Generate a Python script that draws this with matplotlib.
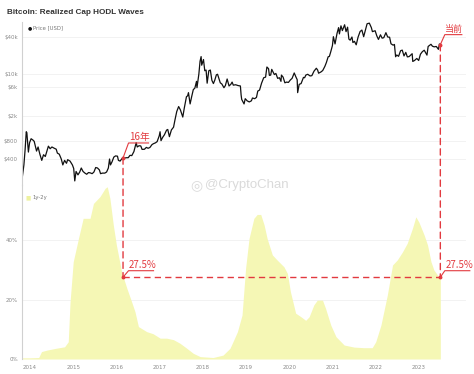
import matplotlib
matplotlib.use("Agg")
import matplotlib.pyplot as plt
import matplotlib.dates as mdates
from matplotlib.patches import ConnectionPatch
from matplotlib.lines import Line2D
import pandas as pd

# ---------------- data ----------------
price_dates = [
    "2013-10-25", "2013-11-10", "2013-11-20", "2013-11-30", "2013-12-05", "2013-12-18", "2013-12-28",
    "2014-01-10", "2014-01-25", "2014-02-05", "2014-02-25", "2014-03-10", "2014-03-25", "2014-04-10",
    "2014-04-25", "2014-05-10", "2014-05-28", "2014-06-05", "2014-06-20", "2014-07-05", "2014-07-25",
    "2014-08-10", "2014-08-20", "2014-09-05", "2014-09-22", "2014-10-05", "2014-10-20", "2014-11-05",
    "2014-11-15", "2014-12-05", "2014-12-25", "2015-01-05", "2015-01-14", "2015-01-25", "2015-02-10",
    "2015-02-25", "2015-03-10", "2015-03-25", "2015-04-10", "2015-04-25", "2015-05-10", "2015-05-25",
    "2015-06-10", "2015-06-25", "2015-07-10", "2015-07-25", "2015-08-10", "2015-08-20", "2015-09-05",
    "2015-09-25", "2015-10-10", "2015-10-25", "2015-11-04", "2015-11-12", "2015-11-25", "2015-12-10",
    "2015-12-25", "2016-01-10", "2016-01-18", "2016-02-01", "2016-02-25", "2016-03-10", "2016-03-25",
    "2016-04-10", "2016-04-25", "2016-05-10", "2016-05-28", "2016-06-16", "2016-06-25", "2016-07-10",
    "2016-07-25", "2016-08-05", "2016-08-25", "2016-09-10", "2016-09-25", "2016-10-10", "2016-10-28",
    "2016-11-10", "2016-11-25", "2016-12-10", "2016-12-28", "2017-01-04", "2017-01-12", "2017-01-25",
    "2017-02-10", "2017-02-28", "2017-03-10", "2017-03-24", "2017-04-10", "2017-04-28", "2017-05-10",
    "2017-05-25", "2017-06-10", "2017-06-25", "2017-07-15", "2017-07-28", "2017-08-15", "2017-08-25",
    "2017-09-01", "2017-09-15", "2017-09-28", "2017-10-12", "2017-10-25", "2017-11-08", "2017-11-12",
    "2017-11-28", "2017-12-08", "2017-12-17", "2017-12-22", "2018-01-06", "2018-01-17", "2018-01-28",
    "2018-02-06", "2018-02-20", "2018-03-05", "2018-03-18", "2018-03-31", "2018-04-12", "2018-04-25",
    "2018-05-05", "2018-05-28", "2018-06-10", "2018-06-28", "2018-07-10", "2018-07-25", "2018-08-10",
    "2018-08-25", "2018-09-05", "2018-09-15", "2018-10-05", "2018-10-25", "2018-11-14", "2018-11-20",
    "2018-11-25", "2018-12-15", "2018-12-25", "2019-01-10", "2019-01-28", "2019-02-15", "2019-02-24",
    "2019-03-15", "2019-03-30", "2019-04-10", "2019-04-25", "2019-05-12", "2019-05-30", "2019-06-15",
    "2019-06-26", "2019-07-10", "2019-07-17", "2019-07-28", "2019-08-06", "2019-08-28", "2019-09-10",
    "2019-09-25", "2019-10-10", "2019-10-23", "2019-10-27", "2019-11-10", "2019-11-25", "2019-12-10",
    "2019-12-25", "2020-01-10", "2020-01-25", "2020-02-12", "2020-02-28", "2020-03-08", "2020-03-12",
    "2020-03-25", "2020-04-10", "2020-04-30", "2020-05-10", "2020-05-20", "2020-06-05", "2020-06-25",
    "2020-07-10", "2020-07-28", "2020-08-17", "2020-08-28", "2020-09-05", "2020-09-25", "2020-10-10",
    "2020-10-28", "2020-11-10", "2020-11-25", "2020-12-05", "2020-12-17", "2020-12-31", "2021-01-08",
    "2021-01-22", "2021-02-08", "2021-02-21", "2021-02-28", "2021-03-13", "2021-03-25", "2021-04-13",
    "2021-04-25", "2021-05-08", "2021-05-19", "2021-05-30", "2021-06-14", "2021-06-22", "2021-07-05",
    "2021-07-20", "2021-08-05", "2021-08-22", "2021-09-06", "2021-09-21", "2021-10-05", "2021-10-20",
    "2021-11-08", "2021-11-25", "2021-12-04", "2021-12-27", "2022-01-10", "2022-01-24", "2022-02-10",
    "2022-02-24", "2022-03-10", "2022-03-28", "2022-04-12", "2022-04-28", "2022-05-10", "2022-05-28",
    "2022-06-08", "2022-06-18", "2022-06-28", "2022-07-13", "2022-07-30", "2022-08-13", "2022-08-28",
    "2022-09-12", "2022-09-25", "2022-10-10", "2022-10-28", "2022-11-05", "2022-11-10", "2022-11-25",
    "2022-12-14", "2022-12-30", "2023-01-14", "2023-01-30", "2023-02-15", "2023-03-10", "2023-03-20",
    "2023-04-13", "2023-04-25", "2023-05-10", "2023-05-28", "2023-06-15", "2023-06-23", "2023-07-01",
]
price_usd = [
    185, 320, 560, 1120, 1080, 520, 740,
    860, 820, 780, 540, 630, 480, 380,
    470, 440, 580, 650, 590, 630, 600,
    580, 500, 480, 400, 320, 380, 340,
    390, 370, 320, 280, 175, 250, 220,
    245, 285, 250, 235, 225, 240, 237,
    230, 245, 290, 285, 265, 230, 235,
    235, 245, 285, 400, 320, 360, 430,
    450, 445, 380, 370, 425, 415, 420,
    420, 460, 455, 530, 740, 630, 660,
    655, 575, 578, 620, 600, 618, 690,
    715, 735, 770, 960, 1120, 800, 900,
    1000, 1190, 1220, 930, 1200, 1330, 1750,
    2400, 2900, 2550, 1950, 2750, 4200, 4350,
    4900, 3200, 4200, 5500, 5800, 7500, 5900,
    9900, 16000, 19100, 13800, 17100, 11200, 11500,
    7000, 11200, 11500, 7800, 6900, 7900, 9600,
    9800, 7100, 6800, 5900, 6400, 8200, 6300,
    6700, 7300, 6500, 6600, 6400, 6300, 4500,
    3800, 3200, 3900, 3600, 3450, 3600, 4000,
    3900, 4100, 5200, 5400, 7000, 8600, 8800,
    12900, 12100, 9400, 9500, 11800, 9700, 10100,
    8400, 8600, 7500, 9500, 8800, 7100, 7300,
    7200, 7900, 8400, 10300, 8700, 8000, 4900,
    6700, 6900, 8700, 8600, 9500, 9800, 9200,
    9300, 11000, 12300, 11500, 10200, 10700, 11300,
    13200, 15300, 19000, 19200, 23000, 29000, 40500,
    30800, 46000, 57000, 45000, 61000, 51000, 63500,
    49000, 58000, 37000, 35500, 40000, 32500, 34000,
    29800, 40000, 49300, 52000, 40500, 51500, 66000,
    67500, 57000, 49000, 50700, 41800, 36500, 43500,
    38300, 39000, 47100, 40000, 39700, 31000, 29400,
    30200, 19000, 20300, 19300, 23800, 24400, 19600,
    22400, 18900, 19100, 20600, 21300, 15900, 16500,
    17800, 16500, 20900, 23000, 24300, 20200, 28000,
    30400, 28300, 27600, 28000, 25100, 30700, 30500,
]

hodl_dates = [
    "2013-10-25", "2014-01-01", "2014-03-15", "2014-04-08", "2014-05-25", "2014-08-08", "2014-10-20",
    "2014-11-20", "2014-12-05", "2015-01-01", "2015-02-14", "2015-03-26", "2015-05-23", "2015-06-21",
    "2015-08-15", "2015-09-28", "2015-10-16", "2015-11-07", "2015-12-06", "2016-01-01", "2016-02-14",
    "2016-03-29", "2016-05-08", "2016-06-06", "2016-07-05", "2016-09-13", "2016-11-06", "2017-01-05",
    "2017-03-01", "2017-04-27", "2017-06-21", "2017-08-18", "2017-10-12", "2017-12-09", "2018-03-28",
    "2018-06-20", "2018-08-18", "2018-09-20", "2018-10-20", "2018-11-28", "2018-12-28", "2019-01-26",
    "2019-03-08", "2019-04-05", "2019-05-05", "2019-06-03", "2019-06-28", "2019-08-11", "2019-09-20",
    "2019-11-17", "2019-12-16", "2020-01-11", "2020-02-24", "2020-04-09", "2020-05-19", "2020-06-17",
    "2020-07-27", "2020-08-25", "2020-10-08", "2020-11-03", "2020-12-17", "2021-01-30", "2021-04-09",
    "2021-07-02", "2021-09-24", "2021-12-02", "2022-01-01", "2022-02-14", "2022-04-09", "2022-05-23",
    "2022-07-02", "2022-08-15", "2022-09-24", "2022-11-07", "2022-12-06", "2023-01-01", "2023-02-14",
    "2023-03-15", "2023-04-13", "2023-05-08", "2023-06-17", "2023-07-01",
]
hodl_1y_2y = [
    0.4, 0.4, 0.5, 2.5, 3.0, 3.6, 4.1,
    5.8, 19.0, 32.7, 40.5, 47.3, 47.3, 52.3,
    54.6, 57.4, 57.9, 54.0, 45.0, 38.3, 29.3,
    23.8, 19.3, 15.9, 10.9, 9.2, 8.5, 7.0,
    7.0, 6.5, 5.3, 3.6, 1.9, 0.8, 0.5,
    1.3, 3.6, 6.5, 9.2, 14.8, 30.5, 40.5,
    47.3, 48.6, 48.6, 45.0, 40.5, 35.0, 33.3,
    31.0, 28.8, 22.6, 15.4, 14.2, 13.0, 14.2,
    18.2, 19.8, 19.8, 17.0, 11.4, 7.5, 4.7,
    4.0, 3.8, 3.8, 5.8, 11.4, 21.5, 31.6,
    33.3, 36.0, 38.9, 43.9, 47.8, 46.0, 41.7,
    38.3, 32.7, 29.9, 27.7, 27.5,
]

price_ticks = [400, 800, 2000, 6000, 10000, 40000]
price_tick_labels = ["$400", "$800", "$2k", "$6k", "$10k", "$40k"]
pct_ticks = [0, 20, 40]
pct_tick_labels = ["0%", "20%", "40%"]
year_ticks = [str(y) for y in range(2014, 2024)]

mark_start = "2016-02-26"
mark_start_price = 416.0
mark_end = "2023-07-01"
mark_end_price = 30000.0
mark_level = 27.5
mark_label_start = "16年"
mark_label_end = "当前"
mark_level_label = "27.5%"

# ---------------- figure ----------------
W, H = 474, 374
fig = plt.figure(figsize=(W / 100, H / 100), dpi=100)
fig.patch.set_facecolor("white")

def fx(px):
    return px / W

def fy(py):
    return 1 - py / H

left, right = 22, 466
ax1 = fig.add_axes([fx(left), fy(185), fx(right - left), fy(22) - fy(185)])
ax2 = fig.add_axes([fx(left), fy(359), fx(right - left), fy(185) - fy(359)])

pdates = mdates.date2num(pd.to_datetime(price_dates).to_pydatetime())
hdates = mdates.date2num(pd.to_datetime(hodl_dates).to_pydatetime())
xmin = mdates.date2num(pd.Timestamp("2013-10-25").to_pydatetime())
xmax = mdates.date2num(pd.Timestamp("2024-02-03").to_pydatetime())

red = "#e23a3f"
grid_c = "#f0f0f0"
tick_c = "#8a8a8a"

# price panel
ax1.plot(pdates, price_usd, color="#111111", lw=0.9)
ax1.set_yscale("log")
ax1.set_ylim(150, 70500)
ax1.set_xlim(xmin, xmax)
ax1.set_yticks(price_ticks)
ax1.set_yticklabels(price_tick_labels)
ax1.minorticks_off()
ax1.set_xticks([])
ax1.yaxis.grid(True, color=grid_c, lw=0.6)

# HODL panel
ax2.fill_between(hdates, 0, hodl_1y_2y, color="#f5f7b5", lw=0)
ax2.set_ylim(0, 58.5)
ax2.set_xlim(xmin, xmax)
ax2.set_yticks(pct_ticks)
ax2.set_yticklabels(pct_tick_labels)
ax2.set_xticks(mdates.date2num(pd.to_datetime([y + "-01-01" for y in year_ticks]).to_pydatetime()))
ax2.set_xticklabels(year_ticks)
ax2.yaxis.grid(True, color=grid_c, lw=0.6)
ax2.set_axisbelow(True)

for ax in (ax1, ax2):
    ax.set_facecolor("none")
    for s in ("top", "right", "bottom"):
        ax.spines[s].set_visible(False)
    ax.spines["left"].set_color("#d0d0d0")
    ax.spines["left"].set_linewidth(0.8)
    ax.tick_params(length=0, labelsize=4, colors=tick_c, pad=3)

ax2.tick_params(axis="x", pad=4)

# title
fig.text(fx(7), fy(12), "Bitcoin: Realized Cap HODL Waves", fontsize=5.9,
         fontweight="bold", color="#333333", family="Liberation Sans", va="center", ha="left")

# legends
fig.text(fx(30), fy(28), "\u25CF", fontsize=3.5, color="#111111", va="center", ha="center")
fig.text(fx(33), fy(28), "Price [USD]", fontsize=3.8, color="#777777", va="center", ha="left")
fig.text(fx(28), fy(197.5), "\u25A0", fontsize=4, color="#eef2a0", va="center", ha="center")
fig.text(fx(32), fy(197.5), "1y-2y", fontsize=3.8, color="#777777", va="center", ha="left")

# watermark
fig.text(fx(196), fy(185), "\u25CE", fontsize=10, color="#dadada", va="center", ha="center")
fig.text(fx(205), fy(185), "@CryptoChan", fontsize=9.5, color="#dadada", va="center", ha="left",
         family="Liberation Sans")

# red dashed guide lines
s_x = mdates.date2num(pd.Timestamp(mark_start).to_pydatetime())
e_x = mdates.date2num(pd.Timestamp(mark_end).to_pydatetime())
for xd, pv in ((s_x, mark_start_price), (e_x, mark_end_price)):
    con = ConnectionPatch(xyA=(xd, pv), coordsA=ax1.transData,
                          xyB=(xd, mark_level), coordsB=ax2.transData,
                          color=red, lw=1.0, linestyle=(0, (4.5, 3)))
    fig.add_artist(con)
ax2.plot([s_x, e_x], [mark_level, mark_level], color=red, lw=1.0, linestyle=(0, (4.5, 3)))

# labelled callouts
font_list = ["Noto Sans CJK SC", "DejaVu Sans"]
fig.canvas.draw()

def callout(ax, xd, yv, label, dx, dy, ulen, fs):
    px, py = ax.transData.transform((xd, yv))
    inv = fig.transFigure.inverted()
    p0 = inv.transform((px, py))
    p1 = inv.transform((px + dx, py + dy))
    p2 = inv.transform((px + dx + ulen, py + dy))
    fig.add_artist(Line2D([p0[0], p1[0], p2[0]], [p0[1], p1[1], p2[1]],
                          color=red, lw=0.8, transform=fig.transFigure))
    fig.add_artist(Line2D([p0[0]], [p0[1]], marker="o", ms=1.8, color=red,
                          transform=fig.transFigure))
    pt = inv.transform((px + dx + 0.5, py + dy + 0.8))
    fig.text(pt[0], pt[1], label, fontsize=fs, color=red, family=font_list,
             ha="left", va="bottom")

callout(ax1, s_x, mark_start_price, mark_label_start, 5.5, 15, 20, 7)
callout(ax2, s_x, mark_level, mark_level_label, 5.5, 6.5, 25, 7)
callout(ax1, e_x, mark_end_price, mark_label_end, 4.5, 10, 17, 6.5)
callout(ax2, e_x, mark_level, mark_level_label, 4.5, 6.5, 25, 7)

fig.savefig("out.png", dpi=100, facecolor="white")
